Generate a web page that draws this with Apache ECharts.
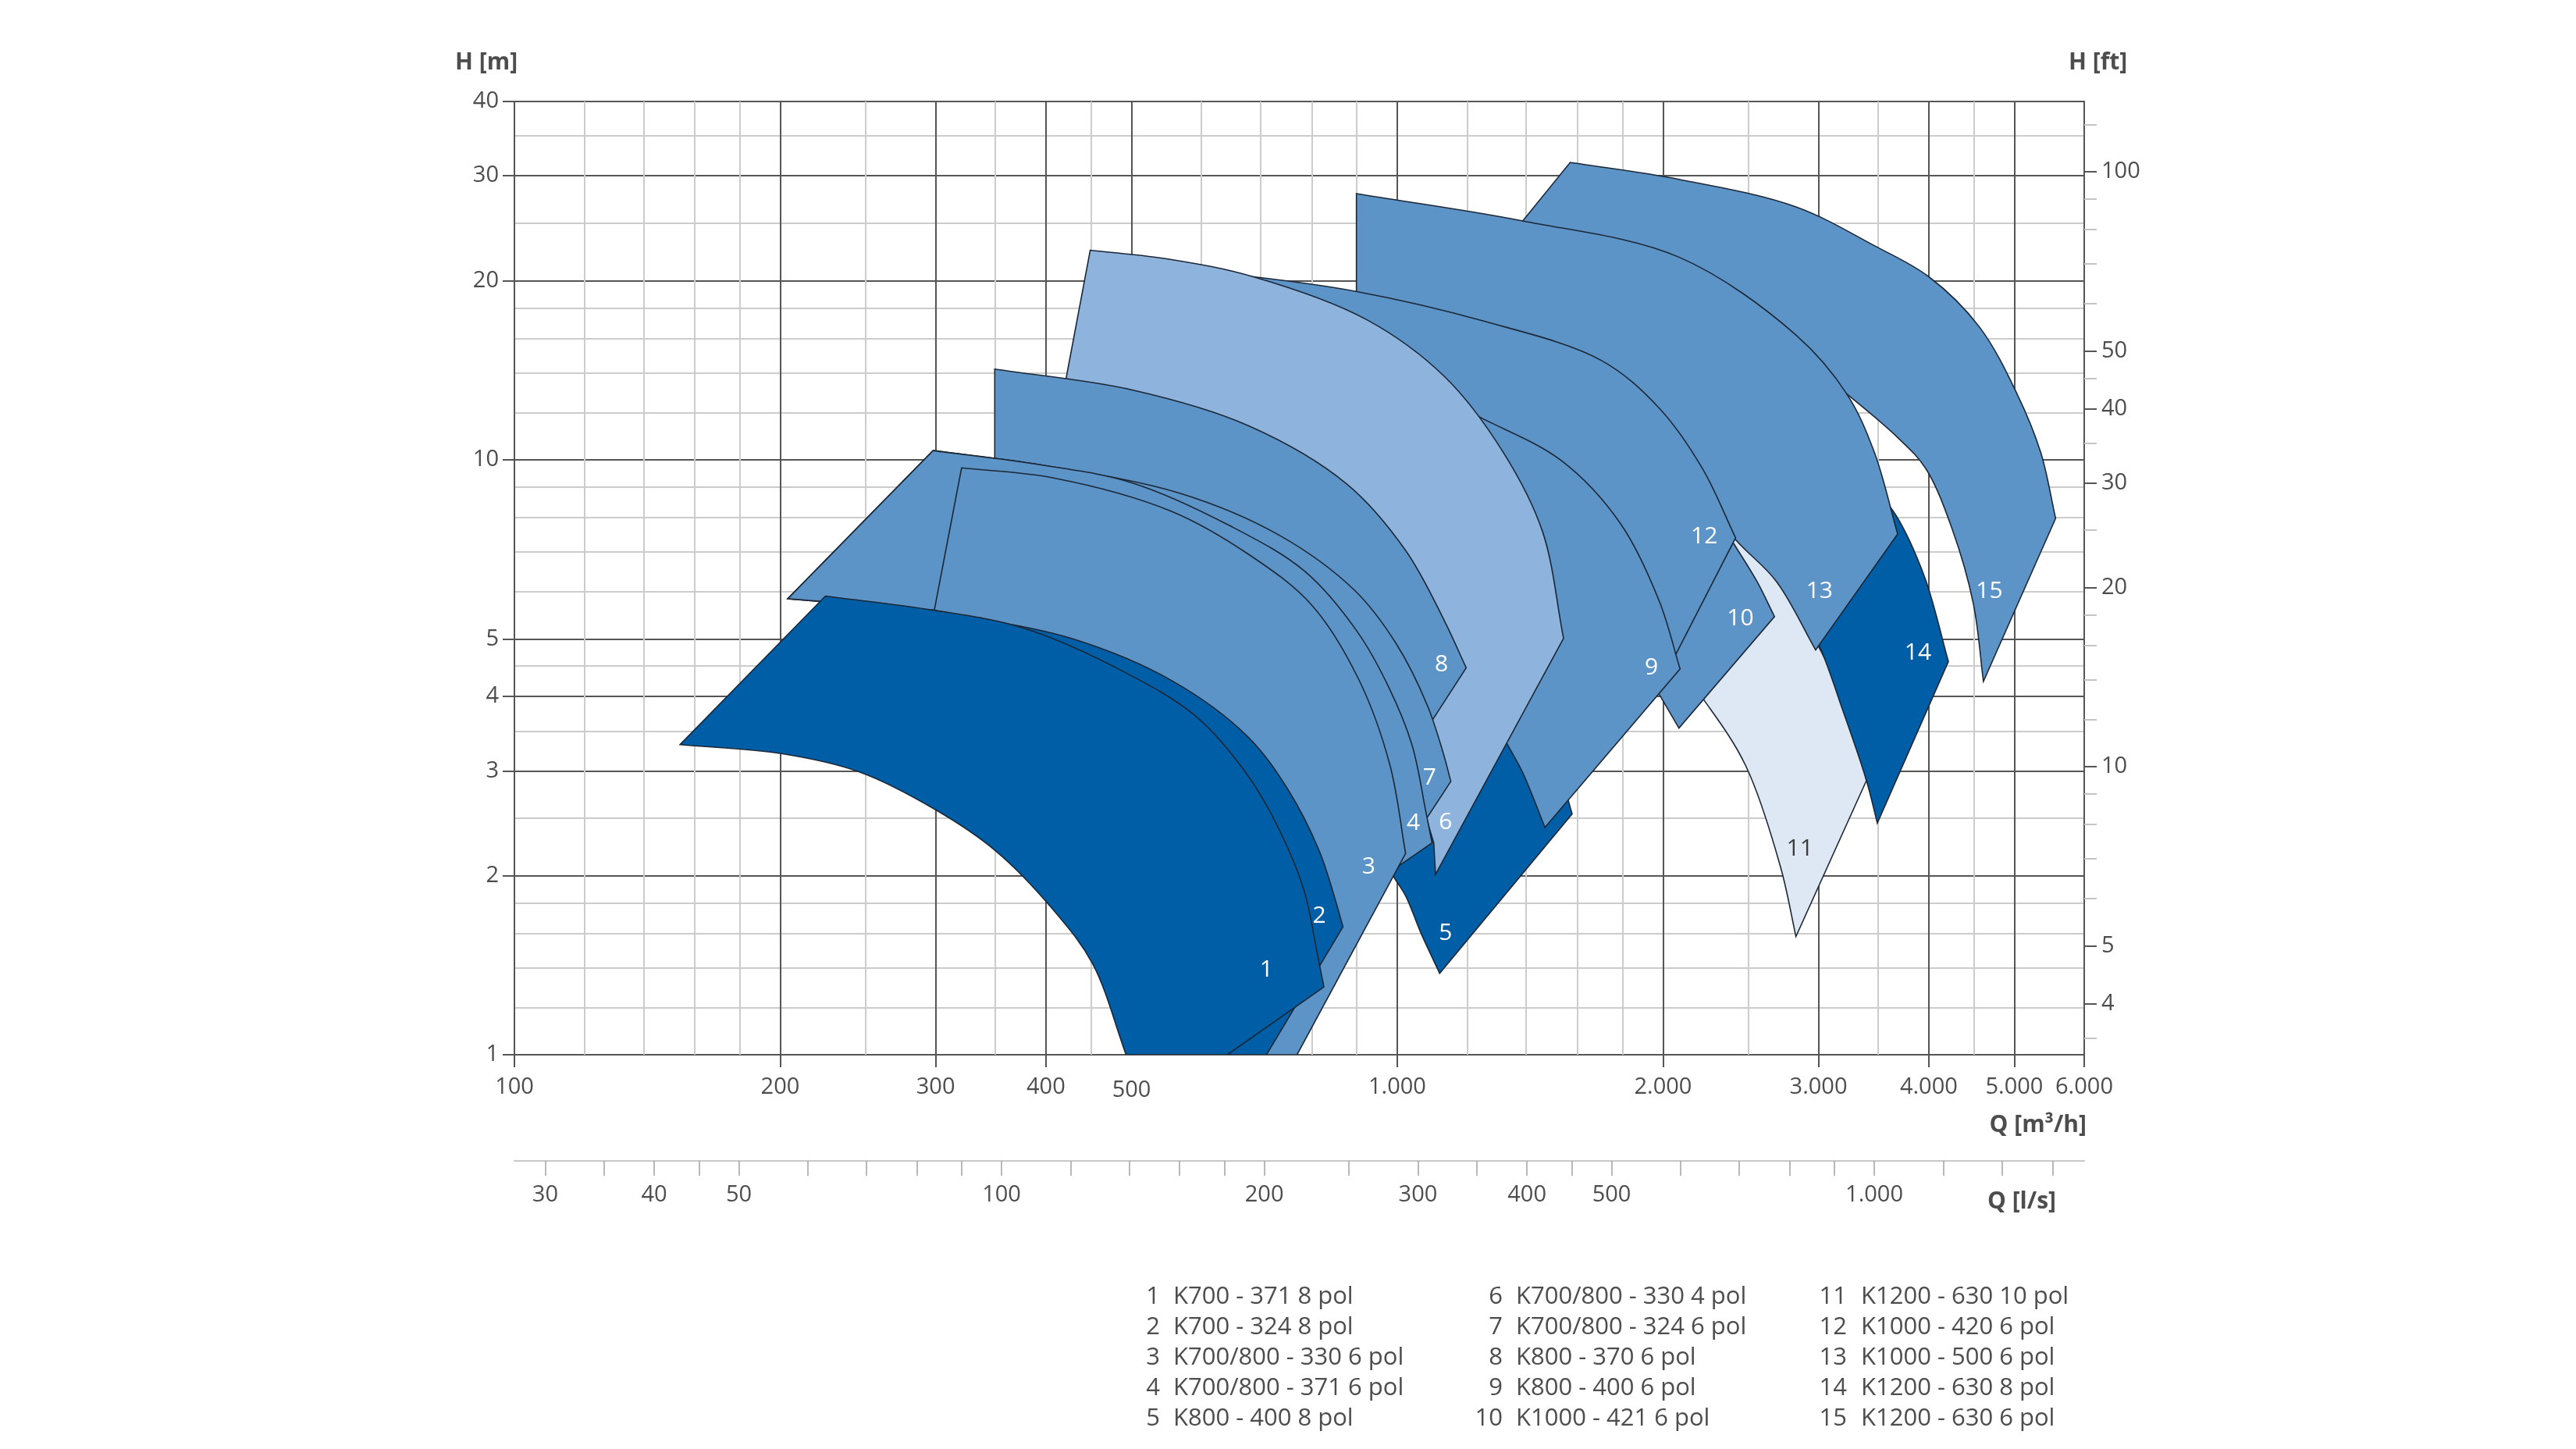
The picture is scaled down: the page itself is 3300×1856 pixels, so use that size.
<!DOCTYPE html>
<html><head><meta charset="utf-8">
<script src="https://cdn.jsdelivr.net/npm/echarts@6/dist/echarts.min.js"></script>
<style>html,body{margin:0;padding:0;background:#fff}#c{width:3300px;height:1856px}</style>
</head><body><div id="c"></div>
<script>
// ---------------- data ----------------
const models = ['K700 - 371 8 pol','K700 - 324 8 pol','K700/800 - 330 6 pol','K700/800 - 371 6 pol','K800 - 400 8 pol',
  'K700/800 - 330 4 pol','K700/800 - 324 6 pol','K800 - 370 6 pol','K800 - 400 6 pol','K1000 - 421 6 pol',
  'K1200 - 630 10 pol','K1000 - 420 6 pol','K1000 - 500 6 pol','K1200 - 630 8 pol','K1200 - 630 6 pol'];
const shapeIds = ['1','2','3','4','5','6','7','8','9','10','11','12','13','14','15'];
// label anchor [Q m3/h, H m]
const labelPoints = [[711,1.39],[816,1.71],[928,2.07],[1043,2.45],[1134,1.60],[1134,2.46],[1088,2.92],[1122,4.52],
  [1941,4.47],[2447,5.40],[2858,2.22],[2227,7.42],[3008,6.01],[3888,4.74],[4685,6.01]];
const shapeTone = ['dark','dark','mid','mid','dark','light','mid','mid','mid','mid','pale','mid','mid','dark','mid'];
// outlines: list of edges, each edge a list of [Q m3/h, H m]
const outline1 = [
 [[154,3.32],[225,5.90]],
 [[225,5.90],[297.5,5.59],[376,5.22],[489,4.41],[592,3.70],[679,2.93],[737,2.37],[784,1.89],[813,1.46],[826,1.30]],
 [[826,1.30],[642,1]],
 [[642,1],[493,1]],
 [[493,1],[452,1.42],[408,1.75],[351,2.20],[300,2.58],[245.5,2.99],[200,3.21],[154,3.32]]];
const outline2 = [
 [[297.5,5.59],[429,5.00],[556,4.25],[675,3.44],[751,2.80],[816,2.20],[850,1.83],[868,1.64]],
 [[868,1.64],[711,1]],
 [[711,1],[555,1]],
 [[555,1],[471,1.83]],
 [[471,1.83],[369,3.35]],
 [[369,3.35],[297.5,5.59]]];
const outline3 = [
 [[321,9.69],[408,9.32],[555,8.19],[679,6.93],[800,5.70],[904,4.28],[981,3.07],[1022,2.18]],
 [[1022,2.18],[770,1]],
 [[770,1],[532,1]],
 [[532,1],[501,1.83]],
 [[501,1.83],[369,3.91]],
 [[369,3.91],[299,5.59]],
 [[299,5.59],[321,9.69]]];
const outline4 = [
 [[204,5.84],[298,10.36]],
 [[298,10.36],[395,9.80],[499,9.16],[648,7.73],[786,6.49],[901,5.14],[977,4.16],[1039,3.32],[1077,2.57],[1095,2.27]],
 [[1095,2.27],[850,1.75]],
 [[850,1.75],[653,1.75]],
 [[653,1.75],[599,2.49],[541,3.08],[465,3.86],[399,4.52],[325,5.26],[265,5.63],[204,5.84]]];
const outline5 = [
 [[371,9.49],[568,8.54],[771,7.68],[946,6.66],[1160,5.68],[1351,4.46],[1496,3.30],[1578,2.54]],
 [[1578,2.54],[1117,1.37]],
 [[1117,1.37],[1064,1.60],[1022,1.85],[991,1.99],[908,2.51]],
 [[908,2.51],[697,3.84]],
 [[697,3.84],[464,4.88]],
 [[464,4.88],[342,5.51]],
 [[342,5.51],[371,9.49]]];
const outline6 = [
 [[449,22.5],[555,21.7],[687,20.3],[923,17.2],[1131,13.8],[1318,10.3],[1460,7.59],[1543,5.01]],
 [[1543,5.01],[1105,2.01]],
 [[1105,2.01],[1100,2.27]],
 [[1100,2.27],[1022,3.26]],
 [[1022,3.26],[833,5.28]],
 [[833,5.28],[614,8.57]],
 [[614,8.57],[471,10.9]],
 [[471,10.9],[413,11.6]],
 [[413,11.6],[422,13.8]],
 [[422,13.8],[449,22.5]]];
const outline7 = [
 [[204,5.84],[298,10.36]],
 [[298,10.36],[395,9.80],[568,8.78],[736,7.46],[895,6.03],[997,4.91],[1082,3.86],[1127,3.22],[1150,2.88]],
 [[1150,2.88],[923,1.75]],
 [[923,1.75],[653,1.75]],
 [[653,1.75],[599,2.49],[541,3.08],[465,3.86],[399,4.52],[325,5.26],[265,5.63],[204,5.84]]];
const outline8 = [
 [[350,14.2],[501,13.1],[679,11.4],[877,9.10],[1022,7.04],[1131,5.36],[1197,4.47]],
 [[1197,4.47],[1092,3.62]],
 [[1092,3.62],[1001,2.98]],
 [[1001,2.98],[833,4.54]],
 [[833,4.54],[614,6.33]],
 [[614,6.33],[452,7.15]],
 [[452,7.15],[350,7.15]],
 [[350,7.15],[350,14.2]]];
const outline9 = [
 [[491,16.7],[751,15.0],[1022,13.5],[1253,11.7],[1535,9.96],[1789,7.82],[1981,5.78],[2091,4.45]],
 [[2091,4.45],[1470,2.41]],
 [[1470,2.41],[1387,2.98],[1332,3.33],[1203,4.41]],
 [[1203,4.41],[923,6.73]],
 [[923,6.73],[614,8.57]],
 [[614,8.57],[452,9.67]],
 [[452,9.67],[491,16.7]]];
const outline10 = [
 [[2405,7.23],[2556,6.24],[2675,5.45]],
 [[2675,5.45],[2085,3.54]],
 [[2085,3.54],[1981,4.03]],
 [[1981,4.03],[1807,5.28]],
 [[1807,5.28],[2085,8.57]],
 [[2085,8.57],[2405,7.23]]];
const outline11 = [
 [[942,11.4],[1253,10.6],[1701,9.58],[2085,8.31],[2414,7.48],[2772,5.87],[3101,4.41],[3296,3.46],[3400,2.89]],
 [[3400,2.89],[2829,1.58]],
 [[2829,1.58],[2717,2.07],[2479,3.07],[2227,3.94],[2001,4.83]],
 [[2001,4.83],[1535,7.15]],
 [[1535,7.15],[1131,9.10]],
 [[1131,9.10],[942,9.67]],
 [[942,9.67],[942,11.4]]];
const outline12 = [
 [[501,21.2],[687,20.3],[895,19.2],[1253,17.1],[1701,14.7],[1981,12.2],[2216,9.67],[2417,7.39]],
 [[2417,7.39],[2042,4.54]],
 [[2042,4.54],[1701,6.73]],
 [[1701,6.73],[1387,8.57]],
 [[1387,8.57],[1022,10.9]],
 [[1022,10.9],[501,21.2]]];
const outline13 = [
 [[899,28.0],[1387,25.2],[2085,21.9],[2829,16.2],[3230,12.9],[3470,10.3],[3688,7.50]],
 [[3688,7.50],[2978,4.79]],
 [[2978,4.79],[2689,6.24],[2417,7.34],[2085,9.67]],
 [[2085,9.67],[1535,14.3]],
 [[1535,14.3],[1131,16.7]],
 [[1131,16.7],[899,18.2]],
 [[899,18.2],[899,28.0]]];
const outline14 = [
 [[1178,17.8],[1564,16.7],[2123,15.0],[2603,12.9],[3032,10.9],[3470,8.97],[3673,8.06],[3960,6.33],[4210,4.58]],
 [[4210,4.58],[3498,2.45]],
 [[3498,2.45],[3400,2.89],[3197,3.79],[3014,4.83],[2784,6.15],[2502,7.55]],
 [[2502,7.55],[1919,11.2]],
 [[1919,11.2],[1414,14.2]],
 [[1414,14.2],[1178,15.1]],
 [[1178,15.1],[1178,17.8]]];
const outline15 = [
 [[1332,23.4],[1570,31.6]],
 [[1570,31.6],[2085,29.6],[2829,26.6],[3470,22.9],[4001,20.3],[4567,16.7],[5036,12.9],[5355,10.3],[5569,7.97]],
 [[5569,7.97],[4613,4.24]],
 [[4613,4.24],[4493,5.73],[4253,7.64],[3968,9.67],[3688,10.9],[3230,12.9],[2829,15.0]],
 [[2829,15.0],[2085,18.8]],
 [[2085,18.8],[1332,23.4]]];
const drawOrder = [15,11,14,13,10,12,5,9,6,8,7,4,3,2,1];

// axis tick values
const qTicks = [100.0001,200,300,400,1000,2000,3000,4000,5000,5999.999];
const qLabels = [100.0001,200,300,400,500,1000,2000,3000,4000,5000,5999.999];
const qMid = [500];
const qMinor = [120,140,160,180,250,350,450,600,700,800,900,1200,1400,1600,1800,2500,3500,4500];
const hTicks = [1.00001,2,3,4,5,10,20,30,39.9999];
const hMinor = [1.2,1.4,1.6,1.8,2.5,3.5,4.5,6,7,8,9,12,14,16,18,25,35];
const ftLabels = [4,5,10,20,30,40,50,100];
const ftMinor = [3.5,6,7,8,9,12,14,16,18,25,35,45,60,70,80,90,120];
const lsTicks = [30,35,40,45,50,60,70,80,90,100,120,140,160,180,200,250,300,350,400,450,500,600,700,800,900,1000,1200,1400,1600];
const lsLabels = [30,40,50,100,200,300,400,500,1000];

// ---------------- styling / rendering ----------------
const outlines = [outline1,outline2,outline3,outline4,outline5,outline6,outline7,outline8,outline9,outline10,outline11,outline12,outline13,outline14,outline15];
const toneColor = {dark:'#005ea7', mid:'#5d94c8', light:'#8eb3dc', pale:'#dee8f4'};
const FONT = 'Open Sans';
const TXT = '#4d4d4d';
const DARK = '#555555';
const LIGHT = '#cccccc';
const fmtQ = v => { const r = Math.round(v); return r >= 1000 ? (r/1000) + '.000' : String(r); };
const fmtQmain = v => { const r = Math.round(v); return r === 500 ? '{low|500}' : fmtQ(v); };
const fmtH = v => String(Math.round(v*10)/10);

// centripetal Catmull-Rom through the read points (rendering only)
function spline(px){
  const n = px.length;
  if (n === 2) return ' L' + px[1][0] + ' ' + px[1][1];
  const P = i => {
    if (i < 0) return [2*px[0][0]-px[1][0], 2*px[0][1]-px[1][1]];
    if (i >= n) return [2*px[n-1][0]-px[n-2][0], 2*px[n-1][1]-px[n-2][1]];
    return px[i];
  };
  let d = '';
  for (let i = 0; i < n - 1; i++) {
    const p0 = P(i-1), p1 = P(i), p2 = P(i+1), p3 = P(i+2);
    const l1 = Math.max(Math.hypot(p1[0]-p0[0], p1[1]-p0[1]), 1e-6);
    const l2 = Math.max(Math.hypot(p2[0]-p1[0], p2[1]-p1[1]), 1e-6);
    const l3 = Math.max(Math.hypot(p3[0]-p2[0], p3[1]-p2[1]), 1e-6);
    const d1 = Math.sqrt(l1), d2 = Math.sqrt(l2), d3 = Math.sqrt(l3);
    const b1 = [0,1].map(k => (l1*p2[k] - l2*p0[k] + (2*l1 + 3*d1*d2 + l2)*p1[k]) / (3*d1*(d1+d2)));
    const b2 = [0,1].map(k => (l3*p1[k] - l2*p3[k] + (2*l3 + 3*d3*d2 + l2)*p2[k]) / (3*d3*(d3+d2)));
    d += ' C' + b1[0] + ' ' + b1[1] + ' ' + b2[0] + ' ' + b2[1] + ' ' + p2[0] + ' ' + p2[1];
  }
  return d;
}
function renderShape(params, api){
  const n = api.value(0);
  const edges = outlines[n-1];
  let d = '';
  edges.forEach((e, k) => {
    const px = e.map(p => api.coord(p));
    if (k === 0) d += 'M' + px[0][0] + ' ' + px[0][1];
    d += spline(px);
  });
  d += ' Z';
  return {type:'path', shape:{pathData:d}, style:{fill: toneColor[shapeTone[n-1]], stroke:'#1c2735', lineWidth:1.6, lineJoin:'miter'}};
}

const axisLbl = {fontFamily:FONT, fontSize:29, color:TXT};
const hidden = {axisLine:{show:false}, axisLabel:{show:false}};

const legendGraphics = [];
const colNum = [1486, 1925, 2366], colName = [1503, 1942, 2384], rowY = [1661, 1700, 1739, 1778, 1817];
models.forEach((m, i) => {
  const c = Math.floor(i/5), r = i % 5;
  legendGraphics.push({type:'text', x:colNum[c], y:rowY[r], silent:true,
    style:{text:shapeIds[i], fill:TXT, font:'31px "Open Sans"', align:'right', textAlign:'right', verticalAlign:'middle', textVerticalAlign:'middle'}});
  legendGraphics.push({type:'text', x:colName[c], y:rowY[r], silent:true,
    style:{text:m, fill:TXT, font:'31px "Open Sans"', align:'left', textAlign:'left', verticalAlign:'middle', textVerticalAlign:'middle'}});
});
function title(t, x, y, al){
  return {type:'text', x:x, y:y, silent:true, style:{text:t, fill:TXT, font:'bold 30px "Open Sans"', align:al, textAlign:al, verticalAlign:'middle', textVerticalAlign:'middle'}};
}

const chart = echarts.init(document.getElementById('c'), null, {renderer:'canvas'});
chart.setOption({
  animation:false,
  backgroundColor:'#ffffff',
  textStyle:{fontFamily:FONT},
  grid:{left:659, right:630, top:130, bottom:505, show:true, borderColor:DARK, borderWidth:2, backgroundColor:'transparent'},
  xAxis:[
    Object.assign({type:'log', min:100, max:6000, position:'bottom', axisTick:{show:false, customValues:qMinor},
      splitLine:{show:true, lineStyle:{color:LIGHT, width:2}}}, hidden),
    Object.assign({type:'log', min:100, max:6000, position:'bottom', axisTick:{show:false, customValues:qMid},
      splitLine:{show:true, lineStyle:{color:DARK, width:2}}}, hidden),
    {type:'log', min:100, max:6000, position:'bottom', axisLine:{show:false, onZero:false},
      axisTick:{show:true, inside:false, length:16, customValues:qTicks, lineStyle:{color:DARK, width:2}},
      axisLabel:Object.assign({show:true, customValues:qLabels, formatter:fmtQmain, margin:27,
        rich:{low:{fontFamily:FONT, fontSize:29, color:TXT, padding:[4,0,0,0]}}}, axisLbl),
      splitLine:{show:true, lineStyle:{color:DARK, width:2}}},
    {type:'log', min:27.66, max:1740, position:'bottom', offset:136,
      axisLine:{show:true, onZero:false, lineStyle:{color:'#c8c8c8', width:2}},
      axisTick:{show:true, inside:false, length:19, customValues:lsTicks, lineStyle:{color:'#a3a3a3', width:1.5}},
      axisLabel:Object.assign({show:true, customValues:lsLabels, formatter:fmtQ, margin:29}, axisLbl),
      splitLine:{show:false}}
  ],
  yAxis:[
    Object.assign({type:'log', min:1, max:40, position:'left', axisTick:{show:false, customValues:hMinor},
      splitLine:{show:true, lineStyle:{color:LIGHT, width:2}}}, hidden),
    {type:'log', min:1, max:40, position:'left', axisLine:{show:false, onZero:false},
      axisTick:{show:true, inside:false, length:15, customValues:hTicks, lineStyle:{color:DARK, width:2}},
      axisLabel:Object.assign({show:true, customValues:hTicks, formatter:fmtH, margin:20}, axisLbl),
      splitLine:{show:true, lineStyle:{color:DARK, width:2}}},
    {type:'log', min:3.28084, max:131.2336, position:'right', axisLine:{show:false, onZero:false},
      axisTick:{show:true, inside:false, length:16, customValues:ftMinor, lineStyle:{color:'#c4c4c4', width:2}},
      axisLabel:{show:false}, splitLine:{show:false}},
    {type:'log', min:3.28084, max:131.2336, position:'right', axisLine:{show:false, onZero:false},
      axisTick:{show:true, inside:false, length:16, customValues:ftLabels, lineStyle:{color:DARK, width:2}},
      axisLabel:Object.assign({show:true, customValues:ftLabels, formatter:fmtH, margin:22}, axisLbl),
      splitLine:{show:false}}
  ],
  series:[
    {type:'custom', name:'ranges', xAxisIndex:2, yAxisIndex:1, clip:true, silent:true, z:3,
      renderItem:renderShape, data:drawOrder.map(n => [n, 10])},
    {type:'scatter', name:'ids', xAxisIndex:2, yAxisIndex:1, silent:true, z:6, symbolSize:2,
      itemStyle:{color:'rgba(0,0,0,0)', opacity:1},
      label:{show:true, position:'inside', formatter:p => p.name, fontFamily:FONT, fontSize:30, color:'#ffffff', opacity:1},
      data:labelPoints.map((p, i) => ({name:shapeIds[i], value:p, label:{color: shapeTone[i] === 'pale' ? '#3d3d3d' : '#ffffff'}}))}
  ],
  graphic:[
    title('H [m]', 583, 80, 'left'),
    title('H [ft]', 2650, 80, 'left'),
    title('Q [m³/h]', 2673, 1441, 'right'),
    title('Q [l/s]', 2546, 1539, 'left')
  ].concat(legendGraphics)
});
</script>
</body></html>
